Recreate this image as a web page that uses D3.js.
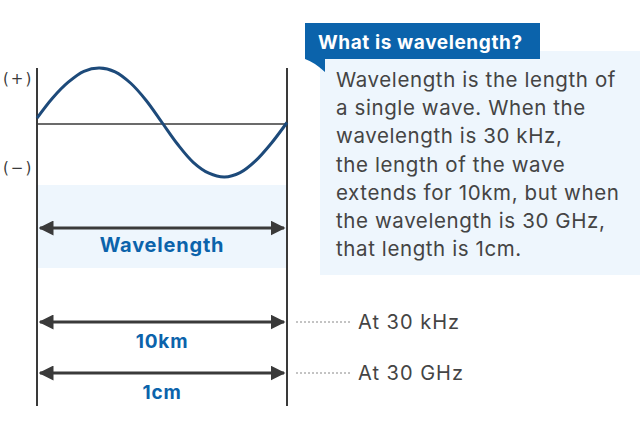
<!DOCTYPE html>
<html><head><meta charset="utf-8">
<script src="https://cdn.jsdelivr.net/npm/d3@7"></script>
<style>body{margin:0;background:#fff}svg{display:block}</style>
</head><body><svg id="c" width="640" height="426"></svg>
<script>
const wavePhase = [0,1,2,3,4,5,6,7,8,9,10,11,12,13,14,15,16];
const waveValue = [0.08,0.45,0.74,0.94,1,0.93,0.72,0.4,0,-0.4,-0.73,-0.93,-1,-0.92,-0.7,-0.38,0];
const axisLabels = ["(+)","(−)"];
const spans = [
  {label:"Wavelength", note:""},
  {label:"10km", note:"At 30 kHz"},
  {label:"1cm", note:"At 30 GHz"}
];
const calloutTitle = "What is wavelength?";
const calloutLines = ["Wavelength is the length of","a single wave. When the","wavelength is 30 kHz,","the length of the wave","extends for 10km, but when","the wavelength is 30 GHz,","that length is 1cm."];

const svg = d3.select("#c");
const font = "Inter, 'Noto Sans', sans-serif";
const x = d3.scaleLinear().domain([0,16]).range([37,287]);
const y = d3.scaleLinear().domain([-1,1]).range([177,68]);
const blue = "#0b63ab", dark = "#3a3a3a";

const defs = svg.append("defs");
defs.append("marker").attr("id","ah").attr("viewBox","0 0 10 10").attr("refX",9).attr("refY",5)
  .attr("markerWidth",5).attr("markerHeight",5).attr("orient","auto-start-reverse")
  .append("path").attr("d","M0,0L10,5L0,10z").attr("fill",dark);

svg.append("rect").attr("x",37).attr("y",185).attr("width",250).attr("height",83).attr("fill","#eef6fd");
[0,16].forEach(v=>svg.append("line").attr("x1",x(v)).attr("x2",x(v)).attr("y1",68).attr("y2",406).attr("stroke",dark).attr("stroke-width",2));
svg.append("line").attr("x1",37).attr("x2",287).attr("y1",y(0)+1.5).attr("y2",y(0)+1.5).attr("stroke",dark).attr("stroke-width",1.6);
svg.append("path").datum(wavePhase.map((p,i)=>[p,waveValue[i]]))
  .attr("d",d3.line().x(d=>x(d[0])).y(d=>y(d[1])).curve(d3.curveCatmullRom))
  .attr("fill","none").attr("stroke","#1d4a7a").attr("stroke-width",3);
svg.selectAll(".al").data(axisLabels).join("text").attr("x",3).attr("y",(d,i)=>i?173:84)
  .attr("font-family","'DejaVu Sans', sans-serif").attr("font-size",15)
  .attr("letter-spacing",2).attr("fill",dark).text(d=>d);

const ay = [228,322,373];
spans.forEach((s,i)=>{
  svg.append("line").attr("x1",x(0)+3).attr("x2",x(16)-3).attr("y1",ay[i]).attr("y2",ay[i])
    .attr("stroke",dark).attr("stroke-width",3).attr("marker-start","url(#ah)").attr("marker-end","url(#ah)");
  svg.append("text").attr("x",(x(0)+x(16))/2).attr("y",ay[i]+(i?26:24)).attr("text-anchor","middle")
    .attr("font-family",font).attr("font-weight",700).attr("font-size",i?19:20).attr("letter-spacing",0.8)
    .attr("fill",blue).text(s.label);
  if(s.note){
    svg.append("line").attr("x1",296).attr("x2",352).attr("y1",ay[i]).attr("y2",ay[i])
      .attr("stroke","#888").attr("stroke-width",1).attr("stroke-dasharray","2,2");
    svg.append("text").attr("x",358).attr("y",ay[i]+7).attr("font-family",font).attr("font-size",20)
      .attr("letter-spacing",1).attr("fill","#444").text(s.note);
  }
});

svg.append("rect").attr("x",320).attr("y",51).attr("width",320).attr("height",224).attr("fill","#eef6fd");
svg.append("path").attr("d","M305,59L325,59L325,72Q314,62 305,59z").attr("fill",blue);
svg.append("rect").attr("x",305).attr("y",23).attr("width",235).attr("height",36).attr("fill",blue);
svg.append("text").attr("x",318).attr("y",49).attr("font-family",font).attr("font-weight",700)
  .attr("font-size",19).attr("letter-spacing",0.6).attr("fill","#fff").text(calloutTitle);
svg.selectAll(".cl").data(calloutLines).join("text").attr("x",336).attr("y",(d,i)=>87+i*28.2)
  .attr("font-family",font).attr("font-size",20.5).attr("letter-spacing",0.6).attr("fill","#444").text(d=>d);
</script></body></html>
